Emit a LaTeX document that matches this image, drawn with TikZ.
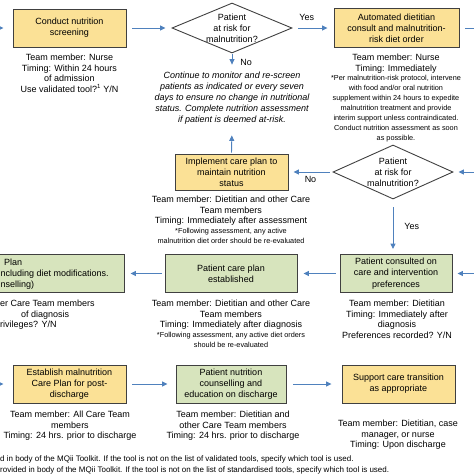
\documentclass[tikz,border=0pt]{standalone}
\usepackage{fontspec}
\setmainfont{Liberation Sans}
\usepackage{tikz}
\usetikzlibrary{shapes,arrows.meta,calc}
\definecolor{plangold}{RGB}{251,225,150}
\definecolor{plangreen}{RGB}{215,228,189}
\definecolor{boxline}{RGB}{64,64,64}
\definecolor{flowblue}{RGB}{79,129,189}
\tikzstyle{box}=[draw=boxline, line width=0.9pt, align=center, inner sep=0pt, minimum height=38pt, font=\fontsize{9}{11.2}\selectfont]
\tikzstyle{ybox}=[box, fill=plangold]
\tikzstyle{gbox}=[box, fill=plangreen]
\tikzstyle{ask}=[draw=boxline, line width=0.9pt, shape=diamond, inner sep=0pt, minimum width=120pt, minimum height=52pt]
\tikzstyle{tag}=[inner sep=0pt, align=center, font=\fontsize{9}{11}\selectfont]
\tikzstyle{note}=[inner sep=0pt, align=center, anchor=north, font=\fontsize{9}{10.7}\selectfont]
\tikzstyle{fine}=[note, font=\fontsize{7.3}{10}\selectfont]
\tikzstyle{flow}=[draw=flowblue, line width=0.9pt, -{Triangle[length=5.5pt,width=5pt]}, shorten <=6pt, shorten >=6pt]

\begin{document}
\begin{tikzpicture}[x=1pt,y=-1pt]
\useasboundingbox (0,0) rectangle (474,474);
\clip (0,0) rectangle (474,474);
% loose ends leaving the frame
\coordinate (inTop) at (-20,28);
\coordinate (outTop) at (490,28);
\coordinate (inRisk) at (490,172);
\coordinate (inConsult) at (490,273.5);
\coordinate (inBottom) at (-20,384);
% top row
\node[ybox, minimum width=113pt] (screen) at (69.5,28) {Conduct nutrition\\screening};
\node[ask, minimum height=50pt, label={[tag]center:Patient\\at risk for\\malnutrition?}] (risk1) at (232,28) {};
\node[ybox, minimum width=125pt, minimum height=39pt] (auto) at (396.5,28) {Automated dietitian\\consult and malnutrition-\\risk diet order};
\node[note] (screenNote) at (69.5,53.6) {Team member: Nurse\\Timing: Within 24 hours\\of admission\\Use validated tool?\textsuperscript{1} Y/N};
\node[note, font=\itshape\fontsize{9}{11}\selectfont] (monitor) at (232,71.6) {Continue to monitor and re-screen\\patients as indicated or every seven\\days to ensure no change in nutritional\\status. Complete nutrition assessment\\if patient is deemed at-risk.};
\node[note] (autoNote) at (396,53.6) {Team member: Nurse\\Timing: Immediately};
\node[fine] (autoFine) at (396,75.3) {*Per malnutrition-risk protocol, intervene\\with food and/or oral nutrition\\supplement within 24 hours to expedite\\malnutrition treatment and provide\\interim support unless contraindicated.\\Conduct nutrition assessment as soon\\as possible.};
% middle rows
\node[ybox, minimum width=113pt, minimum height=36pt] (impl) at (231.5,172) {Implement care plan to\\maintain nutrition\\status};
\node[ask, minimum height=54pt, label={[tag]center:Patient\\at risk for\\malnutrition?}] (risk2) at (393,172) {};
\node[note] (implNote) at (231,195.6) {Team member: Dietitian and other Care\\Team members\\Timing: Immediately after assessment};
\node[fine] (implFine) at (231,228.3) {*Following assessment, any active\\malnutrition diet order should be re-evaluated};
\node[gbox, minimum width=112pt] (consult) at (396,273.5) {Patient consulted on\\care and intervention\\preferences};
\node[gbox, minimum width=132pt] (plan) at (231,273.5) {Patient care plan\\established};
\node[gbox, minimum width=134pt] (left) at (57,273.5) {};
\node[tag, anchor=west, align=left] (leftText) at (0.5,274) {\hspace*{3.5pt}Plan\\ncluding diet modifications.\\nselling)};
\node[note] (consultNote) at (397,299.6) {Team member: Dietitian\\Timing: Immediately after\\diagnosis\\Preferences recorded? Y/N};
\node[note] (planNote) at (231,299.6) {Team member: Dietitian and other Care\\Team members\\Timing: Immediately after diagnosis};
\node[fine] (planFine) at (231,332.3) {*Following assessment, any active diet orders\\should be re-evaluated};
\node[note, anchor=north west, align=left] (leftNote) at (0,299.6) {er Care Team members\\\hspace*{21pt}of diagnosis\\rivileges? Y/N};
% bottom row
\node[ybox, minimum width=113pt] (establish) at (69.5,384) {Establish malnutrition\\Care Plan for post-\\discharge};
\node[gbox, minimum width=110pt] (counsel) at (231,384) {Patient nutrition\\counselling and\\education on discharge};
\node[ybox, minimum width=113pt] (support) at (398.5,384) {Support care transition\\as appropriate};
\node[note] (estNote) at (70,410.6) {Team member: All Care Team\\members\\Timing: 24 hrs. prior to discharge};
\node[note] (counselNote) at (233,410.6) {Team member: Dietitian and\\other Care Team members\\Timing: 24 hrs. prior to discharge};
\node[note] (supportNote) at (398,419.6) {Team member: Dietitian, case\\manager, or nurse\\Timing: Upon discharge};
\node[fine, anchor=north west, align=left, font=\fontsize{8}{10.8}\selectfont] (foot) at (0,455.8) {d in body of the MQii Toolkit. If the tool is not on the list of validated tools, specify which tool is used.\\rovided in body of the MQii Toolkit. If the tool is not on the list of standardised tools, specify which tool is used.};
% connectors
\draw[flow, shorten >=9pt] (inTop) -- (screen);
\draw[flow] (screen) -- (risk1);
\draw[flow] (risk1) -- node[tag, pos=0.35, above=7pt] {Yes} (auto);
\draw[draw=flowblue, line width=0.9pt, shorten <=6pt] (auto) -- (outTop);
\draw[flow, shorten <=0.5pt, shorten >=7pt] (risk1.south) -- node[tag, pos=0.5, right=8pt] {No} (monitor.north);
\draw[flow, shorten <=1pt, shorten >=11pt] (impl.north) -- (monitor.south);
\draw[flow, shorten >=5pt] (inRisk) -- (risk2);
\draw[flow, shorten <=3pt, shorten >=5pt] (risk2) -- node[tag, below=4pt] {No} (impl);
\draw[flow, shorten <=8pt, shorten >=5pt] (risk2.south) -- node[tag, right=11pt] {Yes} (risk2.south |- consult.north);
\draw[flow, shorten >=5pt] (inConsult) -- (consult);
\draw[flow, shorten <=4pt] (consult) -- (plan);
\draw[flow, shorten <=3pt] (plan) -- (left);
\draw[flow, shorten >=9pt] (inBottom) -- (establish);
\draw[flow, shorten >=8pt] (establish) -- (counsel);
\draw[flow, shorten <=7pt, shorten >=10pt] (counsel) -- (support);
\end{tikzpicture}
\end{document}
